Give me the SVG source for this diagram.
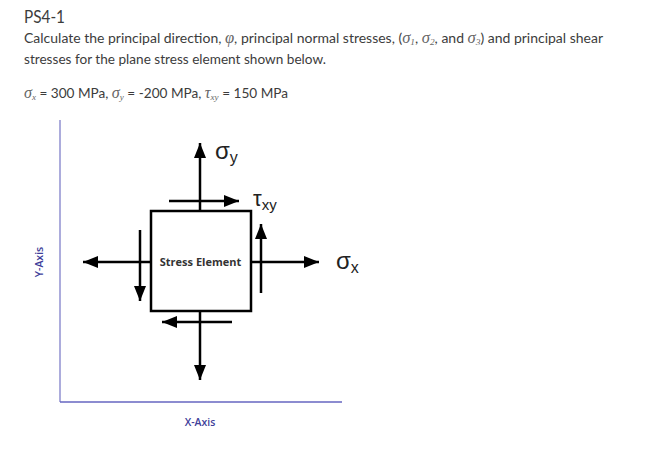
<svg xmlns="http://www.w3.org/2000/svg" width="655" height="454" viewBox="0 0 655 454">
<style>
.t{font-family:Lato,"Open Sans",sans-serif;fill:#3c3c3c;font-size:13.5px}
.m{font-family:"Liberation Serif",serif;font-style:italic;fill:#666;font-size:16px}
.b{font-family:"Liberation Serif",serif;font-style:italic;fill:#666;font-size:9px}
.g{font-family:"Liberation Sans",Arial,sans-serif;fill:#222}
.a{font-family:"Open Sans",sans-serif;font-weight:600;font-size:10.5px;fill:#3f3f9a}
.s{stroke:#000;stroke-width:2.5;fill:none}
</style>
<defs>
<marker id="h" markerUnits="userSpaceOnUse" markerWidth="17" markerHeight="14" refX="15" refY="7" orient="auto"><path d="M0 1L15 7L0 13Z" fill="#000"/></marker>
</defs>
<rect width="655" height="454" fill="#fff"/>
<g id="heading">
<text class="t" x="24" y="23" style="font-size:16.500px" textLength="41" lengthAdjust="spacingAndGlyphs">PS4-1</text>
<text class="t" x="24" y="43" textLength="579" lengthAdjust="spacingAndGlyphs">Calculate the principal direction, <tspan class="m">φ</tspan>, principal normal stresses, (<tspan class="m">σ</tspan><tspan class="b" dy="2">1</tspan><tspan dy="-2">, </tspan><tspan class="m">σ</tspan><tspan class="b" dy="2">2</tspan><tspan dy="-2">, and </tspan><tspan class="m">σ</tspan><tspan class="b" dy="2">3</tspan><tspan dy="-2">) and principal shear</tspan></text>
<text class="t" x="24" y="64" textLength="302" lengthAdjust="spacingAndGlyphs">stresses for the plane stress element shown below.</text>
<text class="t" x="24" y="98" textLength="264" lengthAdjust="spacingAndGlyphs"><tspan class="m">σ</tspan><tspan class="b" dy="2">x</tspan><tspan dy="-2"> = 300 MPa, </tspan><tspan class="m">σ</tspan><tspan class="b" dy="2">y</tspan><tspan dy="-2"> = -200 MPa, </tspan><tspan class="m">τ</tspan><tspan class="b" dy="2">xy</tspan><tspan dy="-2"> = 150 MPa</tspan></text>
</g>
<g id="axes">
<path d="M60 120V402" stroke="#9090d0" stroke-width="1.5" fill="none"/>
<path d="M60 402H342" stroke="#6666c0" stroke-width="1.5" fill="none"/>
<text class="a" x="200" y="426" text-anchor="middle">X-Axis</text>
<text class="a" transform="translate(43 262) rotate(-90)" text-anchor="middle">Y-Axis</text>
</g>
<g id="stress-element">
<rect x="151" y="211" width="100" height="100" fill="#fff" stroke="#000" stroke-width="2.500"/>
<text x="200.500" y="266" text-anchor="middle" style="font-family:'Open Sans',sans-serif;font-weight:700;font-size:11px;fill:#333">Stress Element</text>
</g>
<g id="connectors">
<path class="s" d="M200 210V143" marker-end="url(#h)"/>
<path class="s" d="M169 201H239" marker-end="url(#h)"/>
<path class="s" d="M150 262H83" marker-end="url(#h)"/>
<path class="s" d="M140 230V301" marker-end="url(#h)"/>
<path class="s" d="M252 262H319" marker-end="url(#h)"/>
<path class="s" d="M261 293V224" marker-end="url(#h)"/>
<path class="s" d="M200 312V380" marker-end="url(#h)"/>
<path class="s" d="M232 322H162" marker-end="url(#h)"/>
</g>
<g id="labels">
<text class="g" x="215" y="159" font-size="24">σ<tspan font-size="16" dy="4">y</tspan></text>
<text class="g" x="253" y="206" font-size="22">τ<tspan font-size="15" dy="4">xy</tspan></text>
<text class="g" x="336" y="269" font-size="24">σ<tspan font-size="16" dy="4">x</tspan></text>
</g>
</svg>
